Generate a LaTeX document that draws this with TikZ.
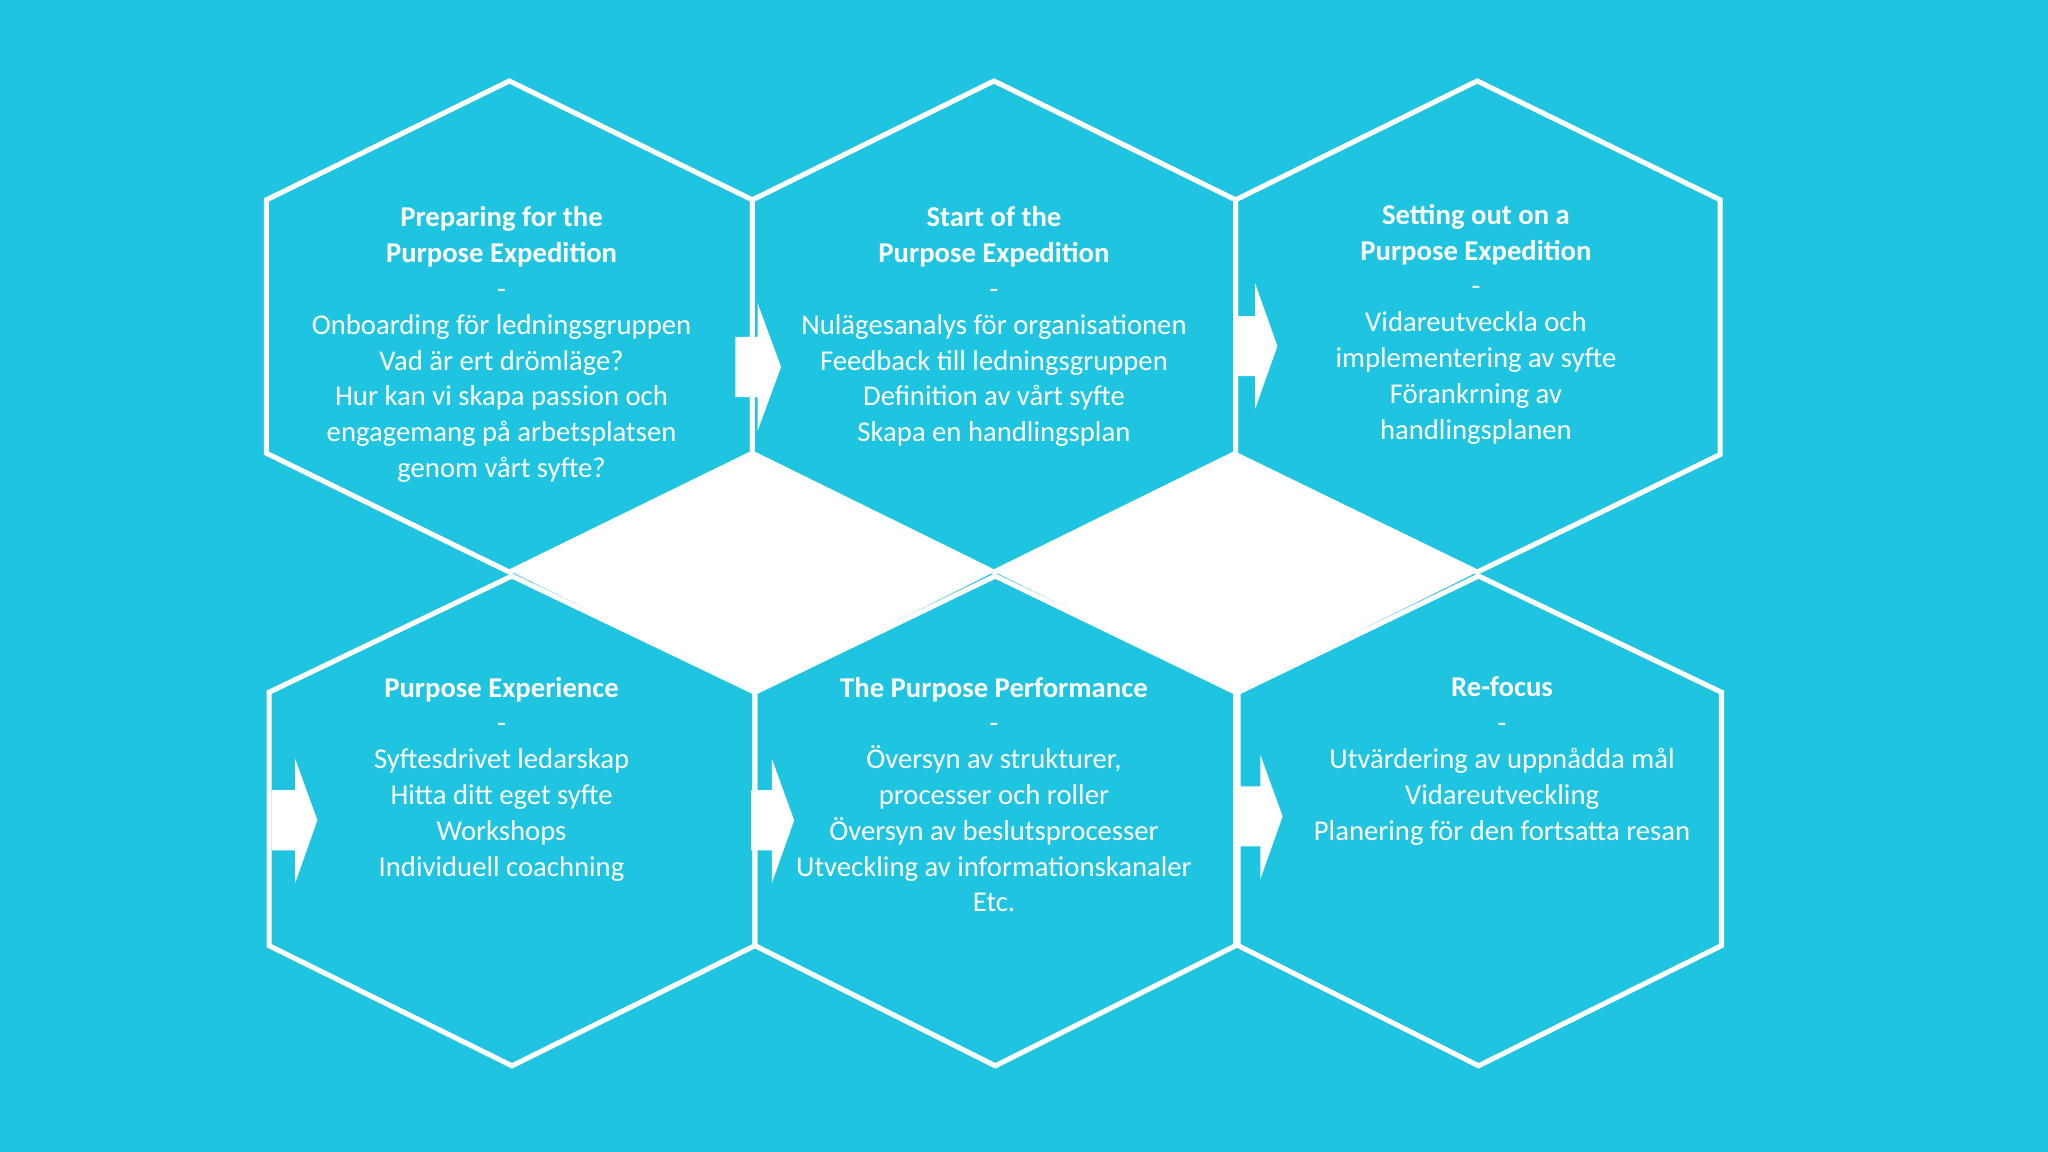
\documentclass[tikz,border=0pt]{standalone}
\usepackage{fontspec}
\setmainfont{Carlito}
\begin{document}
\begin{tikzpicture}[x=0.02cm,y=-0.02cm]
\definecolor{bg}{RGB}{30,196,224}
\tikzset{hex/.style={draw=white,line width=2.2pt,line join=miter},
 arr/.style={fill=white,draw=none},
 txt/.style={text=white,align=center,inner sep=0pt,anchor=north,font=\fontsize{12.5}{15.6}\selectfont}}
\fill[bg] (0,0) rectangle (1568,882);
\useasboundingbox (0,0) rectangle (1568,882);
% diamonds
\fill[white] (576,347) -- (761,438) -- (578,530) -- (392,438) -- cycle;
\fill[white] (946,347) -- (1131,438) -- (946,530) -- (762,438) -- cycle;
% hexes
\draw[hex] (390,62) -- (576,153) -- (576,347) -- (390,438) -- (204,347) -- (204,153) -- cycle;
\draw[hex] (761,62) -- (946,153) -- (946,347) -- (761,438) -- (576,347) -- (576,153) -- cycle;
\draw[hex] (1131,62) -- (1317,153) -- (1317,348) -- (1131,438) -- (946,348) -- (946,153) -- cycle;
\draw[hex] (392,441) -- (578,530) -- (578,724) -- (392,816) -- (206,724) -- (206,530) -- cycle;
\draw[hex] (762,441) -- (946,530) -- (946,724) -- (762,816) -- (578,724) -- (578,530) -- cycle;
\draw[hex] (1132,441) -- (1318,530) -- (1318,724) -- (1132,816) -- (948,724) -- (948,530) -- cycle;
% arrows
\fill[arr] (563,258) -- (580,258) -- (580,232) -- (598,281) -- (580,330) -- (580,304) -- (563,304) -- cycle;
\fill[arr] (946,242) -- (961,242) -- (961,217) -- (978,265) -- (961,313) -- (961,288) -- (946,288) -- cycle;
\fill[arr] (208,605) -- (226,605) -- (226,581) -- (243,628) -- (226,676) -- (226,651) -- (208,651) -- cycle;
\fill[arr] (575,605) -- (591,605) -- (591,581) -- (608,628) -- (591,676) -- (591,651) -- (575,651) -- cycle;
\fill[arr] (948,602) -- (965,602) -- (965,578) -- (982,625) -- (965,673) -- (965,648) -- (948,648) -- cycle;
% texts
\node[txt] (t1) at (384,158) {\textbf{Preparing for the}\\\textbf{Purpose Expedition}\\-\\Onboarding för ledningsgruppen\\Vad är ert drömläge?\\Hur kan vi skapa passion och\\engagemang på arbetsplatsen\\genom vårt syfte?};
\node[txt] (t2) at (761,158) {\textbf{Start of the}\\\textbf{Purpose Expedition}\\-\\Nulägesanalys för organisationen\\Feedback till ledningsgruppen\\Definition av vårt syfte\\Skapa en handlingsplan};
\node[txt] (t3) at (1130,156) {\textbf{Setting out on a}\\\textbf{Purpose Expedition}\\-\\Vidareutveckla och\\implementering av syfte\\Förankrning av\\handlingsplanen};
\node[txt] (b1) at (384,518) {\textbf{Purpose Experience}\\-\\Syftesdrivet ledarskap\\Hitta ditt eget syfte\\Workshops\\Individuell coachning};
\node[txt] (b2) at (761,518) {\textbf{The Purpose Performance}\\-\\Översyn av strukturer,\\processer och roller\\Översyn av beslutsprocesser\\Utveckling av informationskanaler\\Etc.};
\node[txt] (b3) at (1150,518) {\textbf{Re-focus}\\-\\Utvärdering av uppnådda mål\\Vidareutveckling\\Planering för den fortsatta resan};
\end{tikzpicture}
\end{document}
